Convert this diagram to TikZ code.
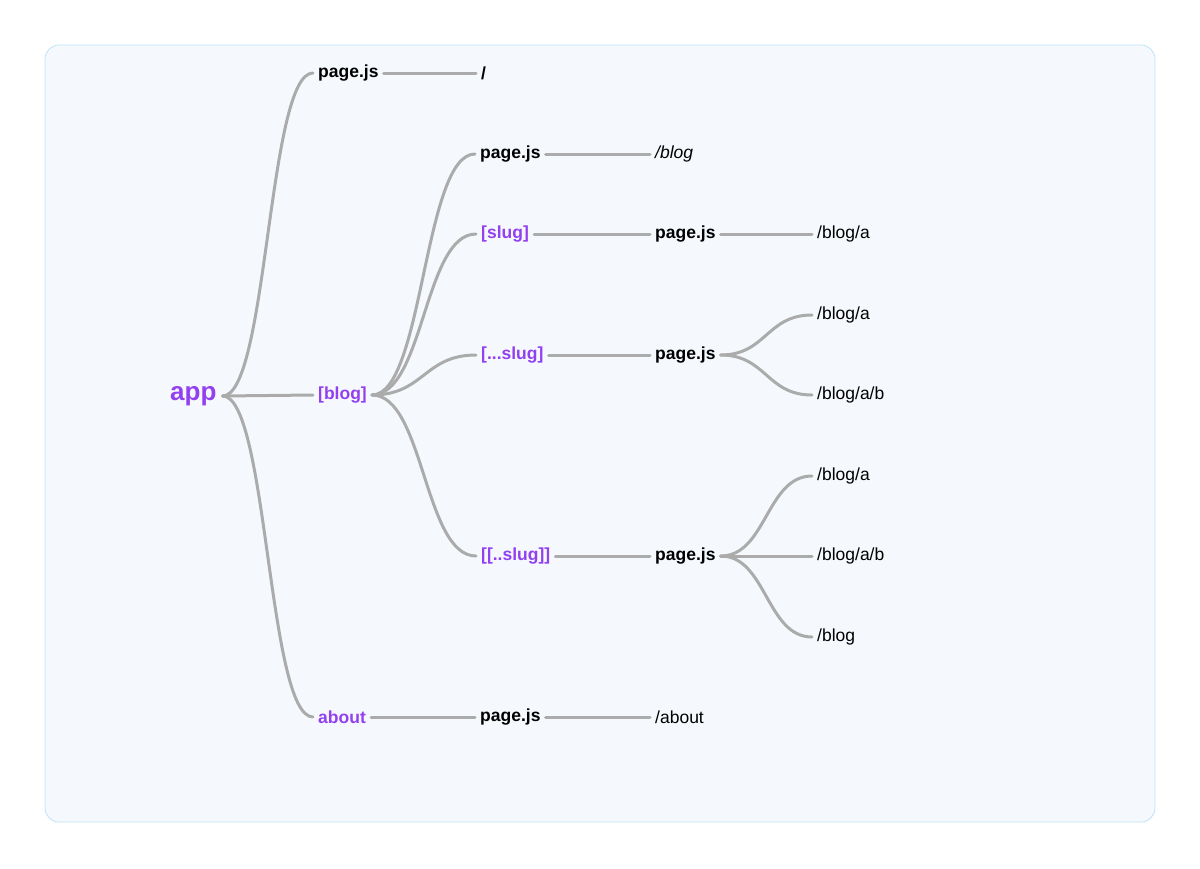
\documentclass[tikz,border=0pt]{standalone}
\usepackage{fontspec}
\usetikzlibrary{calc}
\setmainfont{Liberation Sans}
\definecolor{bgfill}{HTML}{F5F9FD}
\definecolor{bgline}{HTML}{BEE2F8}
\definecolor{purp}{HTML}{9240F0}
\definecolor{edge}{HTML}{ABABAB}
\tikzset{
  lbl/.style={anchor=west,inner xsep=5pt,inner ysep=3pt,yshift=-2pt,font=\fontsize{17.5}{20}\selectfont},
  fil/.style={lbl,font=\fontsize{17.5}{20}\selectfont\bfseries},
  dir/.style={lbl,text=purp,font=\fontsize{17.5}{20}\selectfont\bfseries},
  rt/.style={lbl},
  con/.style={draw=edge,line width=3pt,line cap=round},
}
\newcommand\sig[2]{\draw[con] let \p1=(#1.east), \p2=(#2.west), \n1={(\x1+\x2)/2} in (\p1) .. controls (\n1,\y1) and (\n1,\y2) .. (\p2);}
\begin{document}
\begin{tikzpicture}[x=1pt,y=-1pt]
\useasboundingbox (0,0) rectangle (1200,868);
\draw[bgline,fill=bgfill,line width=0.8pt,rounded corners=14pt] (45,45) rectangle (1155,822);
\node[dir,font=\fontsize{26}{30}\selectfont\bfseries,inner xsep=6pt,yshift=-1pt] (app) at (164,393) {app};
\node[dir] (blog) at (313,393) {[blog]};
\node[fil] (p1) at (313,71) {page.js};
\node[fil] (r1) at (476,71) {/};
\node[fil] (p2) at (475,152) {page.js};
\node[rt,font=\fontsize{17.5}{20}\selectfont\itshape] (r2) at (650,152) {/blog};
\node[dir] (slug) at (476,232) {[slug]};
\node[fil] (p3) at (650,232) {page.js};
\node[rt] (r3) at (812,232) {/blog/a};
\node[dir] (cslug) at (476,353) {[...slug]};
\node[fil] (p4) at (650,353) {page.js};
\node[rt] (r4a) at (812,313) {/blog/a};
\node[rt] (r4b) at (812,393) {/blog/a/b};
\node[dir] (oslug) at (476,554) {[[..slug]]};
\node[fil] (p5) at (650,554) {page.js};
\node[rt] (r5a) at (812,474) {/blog/a};
\node[rt] (r5b) at (812,554) {/blog/a/b};
\node[rt] (r5c) at (812,635) {/blog};
\node[dir] (about) at (313,715) {about};
\node[fil] (p6) at (475,715) {page.js};
\node[rt] (r6) at (650,715) {/about};
\sig{app}{p1}\sig{app}{blog}\sig{app}{about}
\sig{blog}{p2}\sig{blog}{slug}\sig{blog}{cslug}\sig{blog}{oslug}
\draw[con] (p1) -- (r1);
\draw[con] (p2) -- (r2);
\draw[con] (slug) -- (p3);
\draw[con] (p3) -- (r3);
\draw[con] (cslug) -- (p4);
\draw[con] (oslug) -- (p5);
\draw[con] (about) -- (p6);
\draw[con] (p6) -- (r6);
\sig{p4}{r4a}\sig{p4}{r4b}
\sig{p5}{r5a}\sig{p5}{r5b}\sig{p5}{r5c}
\end{tikzpicture}
\end{document}
